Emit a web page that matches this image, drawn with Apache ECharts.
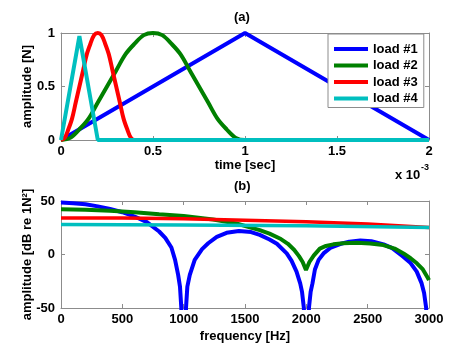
<!DOCTYPE html>
<html>
<head>
<meta charset="utf-8">
<script src="https://cdn.jsdelivr.net/npm/echarts@6/dist/echarts.min.js"></script>
<style>html,body{margin:0;padding:0;background:#fff;}#c{width:474px;height:355px;}</style>
</head>
<body>
<div id="c"></div>
<script>
// ---------- data (top: time in units of 1e-3 s) ----------
const seriesNames = ['load #1', 'load #2', 'load #3', 'load #4'];
const colors = ['#0000ff', '#008000', '#ff0000', '#00bfbf'];

const load1T = [0, 1, 2];
const load1A = [0, 1, 0];
const load2T = [0,0.05,0.1,0.15,0.2,0.25,0.3,0.35,0.4,0.45,0.5,0.55,0.6,0.65,0.7,0.75,0.8,0.85,0.9,0.95,1,2];
const load2A = [0,0.02,0.1,0.2,0.35,0.5,0.65,0.8,0.9,0.98,1,0.98,0.9,0.8,0.65,0.5,0.35,0.2,0.1,0.02,0,0];
const load3T = [0,0.02,0.04,0.06,0.08,0.1,0.12,0.14,0.16,0.18,0.2,0.22,0.24,0.26,0.28,0.3,0.32,0.34,0.36,0.38,0.4,2];
const load3A = [0,0.02,0.1,0.2,0.35,0.5,0.65,0.8,0.9,0.98,1,0.98,0.9,0.8,0.65,0.5,0.35,0.2,0.1,0.02,0,0];
const load4T = [0, 0.1, 0.2, 2];
const load4A = [0, 0.97, 0, 0];

// ---------- data (bottom: spectra, dB re 1N^2) ----------
const blueF = [0,100,200,300,400,500,600,700,800,850,900,930,955,970,981,1000,1019,1030,1050,1090,1150,1200,1270,1350,1450,1550,1620,1700,1760,1840,1880,1920,1950,1965,1980,2000,2021,2035,2050,2070,2100,2140,2200,2275,2350,2440,2530,2630,2700,2790,2850,2900,2940,2960,2977,3000];
const blueD = [48.5,48,47,45,42.5,39.5,35.5,30.3,21.5,15.5,6.5,-5,-19,-30,-50,-400,-50,-30,-19,-5,5,10.5,16.5,20.3,22,21,18.3,14,10,1,-6,-16,-27,-35,-50,-400,-50,-35,-27,-14,-5,1,6.5,9.8,12,13,12.5,9.5,6,-2,-8,-16,-27,-36,-50,-400];
const greenF = [0,200,400,600,800,1000,1240,1430,1620,1700,1784,1850,1900,1940,1970,1997,2025,2060,2110,2160,2220,2300,2411,2520,2628,2720,2792,2850,2901,2950,2991,3000];
const greenD = [42.3,41.8,40.8,39.4,37.6,36,32.7,29,22.8,19.5,15,10,4.5,-1.5,-7,-14.5,-7,-1,5.5,8,9.5,10.5,11,10.3,8.8,5.5,1,-3.5,-8.2,-14,-22,-24];
const redF = [0,500,1000,1500,2000,2500,3000];
const redD = [34.2,34,33.3,32,30.5,28.5,25.3];
const cyanF = [0,1000,2000,3000];
const cyanD = [28,27.6,26.8,25.3];

// ---------- chart ----------
const FONT = "'Liberation Sans', Arial, sans-serif";
const GRAY = '#8c8c8c';
function pairs(xs, ys) { return xs.map((x, i) => [x, ys[i]]); }
const plain = v => String(v);

function mainX(gi, min, max, interval, name, gap) {
  return {
    gridIndex: gi, type: 'value', position: 'bottom', min, max, interval,
    name, nameLocation: 'middle', nameGap: gap, nameMoveOverlap: false,
    nameTextStyle: { fontFamily: FONT, fontWeight: 'bold', fontSize: 13, color: '#000' },
    axisLine: { onZero: false, lineStyle: { color: GRAY, width: 1 } },
    axisTick: { inside: true, length: 4, lineStyle: { color: GRAY } },
    axisLabel: { fontFamily: FONT, fontWeight: 'bold', fontSize: 13, color: '#000', margin: 5, formatter: plain },
    splitLine: { show: false }
  };
}
function mirrorX(gi, min, max, interval) {
  return {
    gridIndex: gi, type: 'value', position: 'top', min, max, interval,
    axisLine: { onZero: false, lineStyle: { color: GRAY, width: 1 } },
    axisTick: { inside: true, length: 4, lineStyle: { color: GRAY } },
    axisLabel: { show: false }, splitLine: { show: false }
  };
}
function mainY(gi, min, max, interval, name, gap) {
  return {
    gridIndex: gi, type: 'value', position: 'left', min, max, interval,
    name, nameLocation: 'middle', nameGap: gap, nameRotate: 90, nameMoveOverlap: false,
    nameTextStyle: { fontFamily: FONT, fontWeight: 'bold', fontSize: 13, color: '#000' },
    axisLine: { onZero: false, lineStyle: { color: GRAY, width: 1 } },
    axisTick: { inside: true, length: 4, lineStyle: { color: GRAY } },
    axisLabel: { fontFamily: FONT, fontWeight: 'bold', fontSize: 13, color: '#000', margin: 6, formatter: plain },
    splitLine: { show: false }
  };
}
function mirrorY(gi, min, max, interval) {
  return {
    gridIndex: gi, type: 'value', position: 'right', min, max, interval,
    axisLine: { onZero: false, lineStyle: { color: GRAY, width: 1 } },
    axisTick: { inside: true, length: 4, lineStyle: { color: GRAY } },
    axisLabel: { show: false }, splitLine: { show: false }
  };
}

const topT = [load1T, load2T, load3T, load4T];
const topA = [load1A, load2A, load3A, load4A];
const botF = [blueF, greenF, redF, cyanF];
const botD = [blueD, greenD, redD, cyanD];
const series = [];
for (let i = 0; i < 4; i++) {
  series.push({
    name: seriesNames[i], type: 'line', xAxisIndex: 0, yAxisIndex: 0,
    data: pairs(topT[i], topA[i]), symbol: 'none', clip: true,
    smooth: (i === 1 || i === 2) ? 0.35 : false,
    lineStyle: { color: colors[i], width: 4 }, itemStyle: { color: colors[i] }
  });
}
for (let i = 0; i < 4; i++) {
  series.push({
    name: seriesNames[i], type: 'line', xAxisIndex: 2, yAxisIndex: 2,
    data: pairs(botF[i], botD[i]), symbol: 'none', clip: true,
    lineStyle: { color: colors[i], width: i < 2 ? 4 : 3.5 }, itemStyle: { color: colors[i] }
  });
}

const chart = echarts.init(document.getElementById('c'), null, { renderer: 'canvas' });
chart.setOption({
  animation: false,
  backgroundColor: '#fff',
  grid: [
    { left: 61, top: 33, width: 368, height: 107 },
    { left: 61, top: 201, width: 368, height: 107 }
  ],
  xAxis: [
    mainX(0, 0, 2, 0.5, 'time [sec]', 19),
    mirrorX(0, 0, 2, 0.5),
    mainX(1, 0, 3000, 500, 'frequency [Hz]', 22),
    mirrorX(1, 0, 3000, 500)
  ],
  yAxis: [
    mainY(0, 0, 1, 0.5, 'amplitude [N]', 27),
    mirrorY(0, 0, 1, 0.5),
    mainY(1, -50, 50, 50, 'amplitude [dB re 1N\u00B2]', 27),
    mirrorY(1, -50, 50, 50)
  ],
  legend: {
    data: seriesNames, orient: 'vertical', left: 328, top: 34,
    padding: [7, 6, 1, 6], itemGap: 0.5, itemWidth: 34, itemHeight: 4,
    icon: 'rect', backgroundColor: '#fff', borderColor: GRAY, borderWidth: 1,
    textStyle: { fontFamily: FONT, fontWeight: 'bold', fontSize: 13, color: '#000', lineHeight: 16 },
    selectedMode: false
  },
  graphic: [
    { type: 'text', left: 245 - 11, top: 11, style: { text: '(a)', font: 'bold 13px ' + FONT, fill: '#000' } },
    { type: 'text', left: 245 - 11, top: 180, style: { text: '(b)', font: 'bold 13px ' + FONT, fill: '#000' } },
    { type: 'text', left: 395, top: 169, style: { text: 'x 10', font: 'bold 13px ' + FONT, fill: '#000' } },
    { type: 'text', left: 421, top: 163, style: { text: '-3', font: 'bold 9px ' + FONT, fill: '#000' } }
  ],
  series
});
</script>
</body>
</html>
